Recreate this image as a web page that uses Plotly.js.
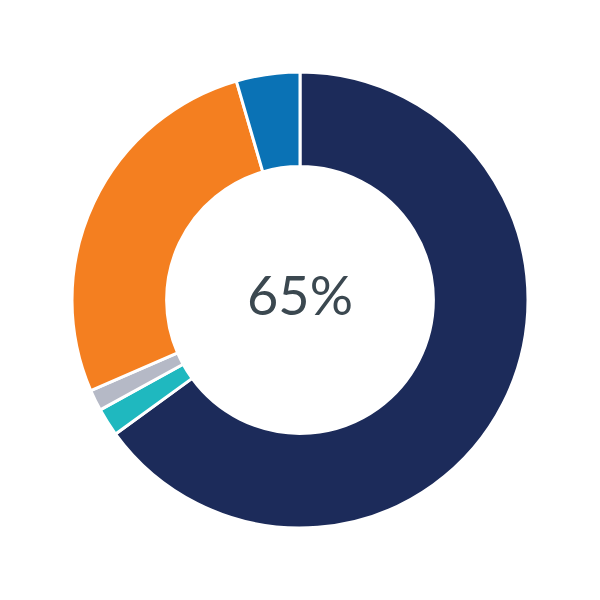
<!DOCTYPE html>
<html>
<head>
<meta charset="utf-8">
<script src="https://cdn.plot.ly/plotly-3.0.1.min.js"></script>
<style>html,body{margin:0;padding:0;background:#fff;}#chart{width:600px;height:600px;}</style>
</head>
<body>
<div id="chart"></div>
<script>
const labels = ["Navy", "Teal", "Gray", "Orange", "Blue"];
const values = [65, 2, 1.5, 27, 4.5];
const colors = ["#1c2b5a", "#1fb8bf", "#b5b9c6", "#f47f20", "#0a72b5"];
const centerText = "65%";

const data = [{
  type: "pie",
  labels: labels,
  values: values,
  hole: 0.585,
  sort: false,
  direction: "clockwise",
  rotation: 0,
  textinfo: "none",
  hoverinfo: "label+percent",
  marker: {colors: colors, line: {color: "#ffffff", width: 3}}
}];

const layout = {
  width: 600, height: 600,
  margin: {l: 72, r: 72, t: 72, b: 72},
  showlegend: false,
  paper_bgcolor: "#ffffff",
  annotations: [{
    text: centerText, x: 0.5, y: 0.5, xref: "paper", yref: "paper",
    showarrow: false, yshift: 6,
    font: {family: "Lato", size: 54, color: "#3b4850"}
  }]
};

Plotly.newPlot("chart", data, layout, {displayModeBar: false, staticPlot: true});
</script>
</body>
</html>
